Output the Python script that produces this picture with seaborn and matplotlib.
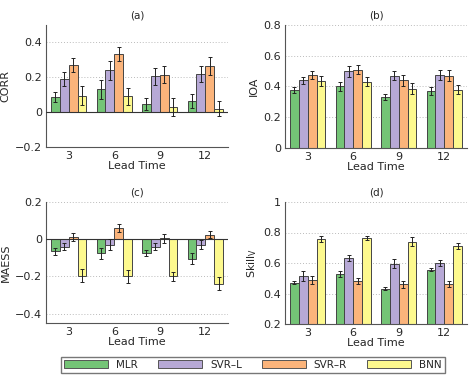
import matplotlib
matplotlib.use("Agg")
import matplotlib.pyplot as plt
import seaborn as sns
import pandas as pd
from matplotlib.ticker import FuncFormatter
from matplotlib.patches import Patch

lead_times = ["3", "6", "9", "12"]
models = ["MLR", "SVR\u2013L", "SVR\u2013R", "BNN"]
colors = ["#74c476", "#b7a9d6", "#fbb47b", "#fdf98e"]

# (a) CORR
corr_mlr = [0.085, 0.13, 0.045, 0.065]
corr_svrl = [0.19, 0.24, 0.205, 0.22]
corr_svrr = [0.27, 0.335, 0.215, 0.265]
corr_bnn = [0.095, 0.09, 0.03, 0.02]
corr_err_mlr = [0.028, 0.055, 0.035, 0.04]
corr_err_svrl = [0.04, 0.055, 0.05, 0.045]
corr_err_svrr = [0.04, 0.04, 0.05, 0.05]
corr_err_bnn = [0.055, 0.05, 0.05, 0.045]

# (b) IOA
ioa_mlr = [0.375, 0.40, 0.33, 0.37]
ioa_svrl = [0.44, 0.50, 0.47, 0.475]
ioa_svrr = [0.475, 0.51, 0.44, 0.47]
ioa_bnn = [0.435, 0.43, 0.385, 0.38]
ioa_err_mlr = [0.02, 0.03, 0.02, 0.025]
ioa_err_svrl = [0.025, 0.035, 0.03, 0.03]
ioa_err_svrr = [0.025, 0.03, 0.035, 0.035]
ioa_err_bnn = [0.035, 0.03, 0.035, 0.03]

# (c) MAESS
maess_mlr = [-0.065, -0.075, -0.075, -0.105]
maess_svrl = [-0.04, -0.03, -0.04, -0.03]
maess_svrr = [0.012, 0.06, 0.005, 0.025]
maess_bnn = [-0.195, -0.20, -0.20, -0.24]
maess_err_mlr = [0.02, 0.03, 0.015, 0.03]
maess_err_svrl = [0.02, 0.03, 0.02, 0.025]
maess_err_svrr = [0.022, 0.02, 0.025, 0.02]
maess_err_bnn = [0.035, 0.035, 0.025, 0.035]

# (d) Skill_V
skill_mlr = [0.47, 0.525, 0.43, 0.555]
skill_svrl = [0.515, 0.635, 0.595, 0.60]
skill_svrr = [0.49, 0.48, 0.46, 0.46]
skill_bnn = [0.755, 0.765, 0.74, 0.71]
skill_err_mlr = [0.01, 0.02, 0.01, 0.01]
skill_err_svrl = [0.03, 0.02, 0.03, 0.02]
skill_err_svrr = [0.025, 0.02, 0.025, 0.02]
skill_err_bnn = [0.02, 0.015, 0.03, 0.02]

panels = [
    ("(a)", "CORR", [corr_mlr, corr_svrl, corr_svrr, corr_bnn],
     [corr_err_mlr, corr_err_svrl, corr_err_svrr, corr_err_bnn],
     (-0.2, 0.5), [-0.2, 0, 0.2, 0.4], True),
    ("(b)", "IOA", [ioa_mlr, ioa_svrl, ioa_svrr, ioa_bnn],
     [ioa_err_mlr, ioa_err_svrl, ioa_err_svrr, ioa_err_bnn],
     (0, 0.8), [0, 0.2, 0.4, 0.6, 0.8], False),
    ("(c)", "MAESS", [maess_mlr, maess_svrl, maess_svrr, maess_bnn],
     [maess_err_mlr, maess_err_svrl, maess_err_svrr, maess_err_bnn],
     (-0.45, 0.2), [-0.4, -0.2, 0, 0.2], True),
    ("(d)", "Skill$_\\mathregular{V}$", [skill_mlr, skill_svrl, skill_svrr, skill_bnn],
     [skill_err_mlr, skill_err_svrl, skill_err_svrr, skill_err_bnn],
     (0.2, 1.0), [0.2, 0.4, 0.6, 0.8, 1.0], False),
]

sns.set_style("white")
plt.rcParams['font.family'] = ['DejaVu Sans']

fig = plt.figure(figsize=(4.74, 3.79), dpi=100)
boxes = [
    [46 / 474, 1 - 147 / 379, 182 / 474, 122 / 379],
    [285 / 474, 1 - 148 / 379, 182 / 474, 123 / 379],
    [46 / 474, 1 - 323 / 379, 182 / 474, 121 / 379],
    [285 / 474, 1 - 324 / 379, 182 / 474, 122 / 379],
]

fmt = FuncFormatter(lambda v, p: ("%g" % round(v, 2)).replace("-", "\u2212"))

for box, (title, ylabel, vals, errs, ylim, yticks, zero_line) in zip(boxes, panels):
    ax = fig.add_axes(box)
    rows = []
    for m, v, e in zip(models, vals, errs):
        for lt, vv, ee in zip(lead_times, v, e):
            rows.append({"Lead Time": lt, "Model": m, "Value": vv, "Err": ee})
    df = pd.DataFrame(rows)
    sns.barplot(data=df, x="Lead Time", y="Value", hue="Model",
                order=lead_times, hue_order=models, palette=colors,
                errorbar=None, width=0.78, edgecolor="#444444",
                linewidth=0.7, saturation=1, legend=False, ax=ax)
    # error bars at the bar centres
    for i, m in enumerate(models):
        cont = ax.containers[i]
        xs = [p.get_x() + p.get_width() / 2 for p in cont.patches]
        sub = df[df["Model"] == m].set_index("Lead Time").loc[lead_times]
        ax.errorbar(xs, sub["Value"], yerr=sub["Err"], fmt="none",
                    ecolor="#222222", elinewidth=0.7, capsize=1.5,
                    capthick=0.7, zorder=5)
    if zero_line:
        ax.axhline(0, color="#333333", lw=0.8, zorder=4)
    ax.set_ylim(*ylim)
    ax.set_xlim(-0.5, 3.5)
    ax.set_yticks(yticks)
    ax.yaxis.set_major_formatter(fmt)
    for t in yticks:
        ax.axhline(t, color="#bbbbbb", lw=0.7, ls=(0, (1, 2)), zorder=0)
    ax.set_title(title, fontsize=7.5, pad=5)
    ax.set_ylabel(ylabel, fontsize=8, labelpad=3)
    ax.set_xlabel("Lead Time", fontsize=8, labelpad=0)
    ax.tick_params(axis="both", labelsize=8, length=0, pad=3)
    for s in ["top", "right"]:
        ax.spines[s].set_visible(False)
    for s in ["left", "bottom"]:
        ax.spines[s].set_color("#555555")
        ax.spines[s].set_linewidth(0.8)

handles = [Patch(facecolor=c, edgecolor="#555555", linewidth=0.7) for c in colors]
fig.legend(handles, models, loc="lower left", ncol=4,
           bbox_to_anchor=(56 / 474, 1 / 379, 394 / 474, 22 / 379),
           mode="expand", fontsize=7.5, frameon=True, fancybox=False,
           edgecolor="#555555", handlelength=4.2, handleheight=0.9,
           handletextpad=0.8, columnspacing=1.5, borderpad=0.3)

fig.savefig("out.png", dpi=100)
